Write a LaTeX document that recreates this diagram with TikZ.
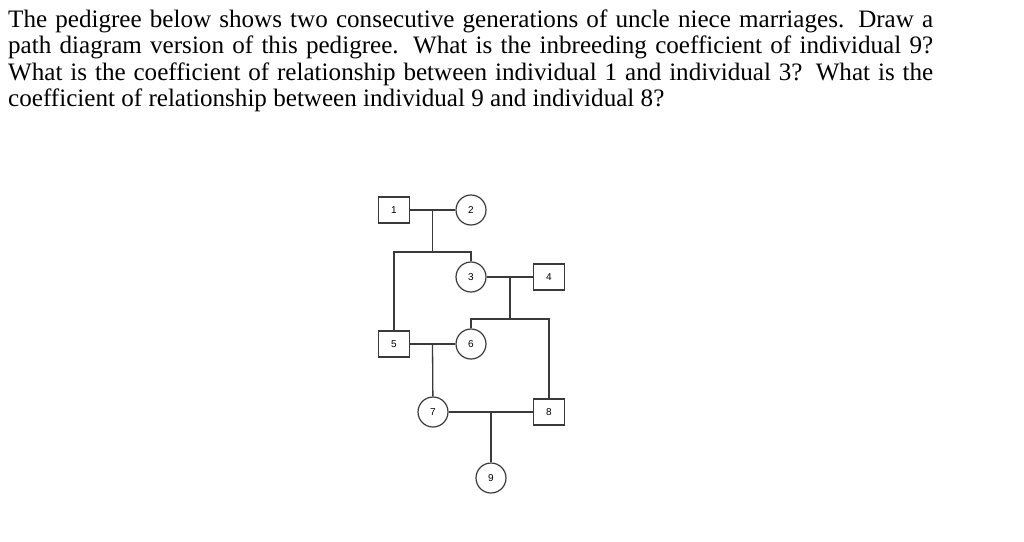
\documentclass[tikz,border=0pt]{standalone}
\usepackage{fontspec}
\setmainfont{Liberation Serif}
\setsansfont{Liberation Sans}
\usepackage{xcolor}
\usetikzlibrary{positioning,calc}

\definecolor{pedgray}{HTML}{3A3A3A}

\begin{document}
\begin{tikzpicture}[x=1pt,y=-1pt,
    male/.style={rectangle, draw=pedgray, line width=1.2pt, fill=white, minimum width=31pt, minimum height=26pt, inner sep=0pt, font=\sffamily\fontsize{10}{10}\selectfont},
    female/.style={circle, draw=pedgray, line width=1.2pt, fill=white, minimum size=30pt, inner sep=0pt, font=\sffamily\fontsize{10}{10}\selectfont},
    link/.style={draw=pedgray, line width=1.3pt}]
    \useasboundingbox (0,0) rectangle (1024,541);

    % Question text
    \node[anchor=north west, inner sep=0pt, text width=925pt, align=justify,
        font=\fontsize{25.1}{26.2}\selectfont] (question) at (8,9.8)
        {The pedigree below shows two consecutive generations of uncle niece marriages. Draw a\linebreak
        path diagram version of this pedigree. What is the inbreeding coefficient of individual 9?\linebreak
        What is the coefficient of relationship between individual 1 and individual 3? What is the\linebreak
        coefficient of relationship between individual 9 and individual 8?};

    % Individuals
    \node[male] (p1) at (394,210) {1};
    \node[female] (p2) at (471,210) {2};
    \node[female] (p3) at (471,277) {3};
    \node[male] (p4) at (549,277) {4};
    \node[male] (p5) at (394,344) {5};
    \node[female] (p6) at (471,344) {6};
    \node[female] (p7) at (433,412) {7};
    \node[male] (p8) at (549,412) {8};
    \node[female] (p9) at (491,478) {9};

    % Marriages and offspring
    \coordinate (m12) at ($(p1)!.5!(p2)$);
    \draw[link] (p1) -- (p2);
    \draw[link] (m12) -- ++(0,42) coordinate (s12);
    \draw[link] (p5) |- (s12) -| (p3);

    \coordinate (m34) at ($(p3)!.5!(p4)$);
    \draw[link] (p3) -- (p4);
    \draw[link] (m34) -- ++(0,42) coordinate (s34);
    \draw[link] (p6) |- (s34) -| (p8);

    \coordinate (m56) at ($(p5)!.5!(p6)$);
    \draw[link] (p5) -- (p6);
    \draw[link] (m56) -- (p7);

    \coordinate (m78) at ($(p7)!.5!(p8)$);
    \draw[link] (p7) -- (p8);
    \draw[link] (m78) -- (p9);
\end{tikzpicture}
\end{document}
